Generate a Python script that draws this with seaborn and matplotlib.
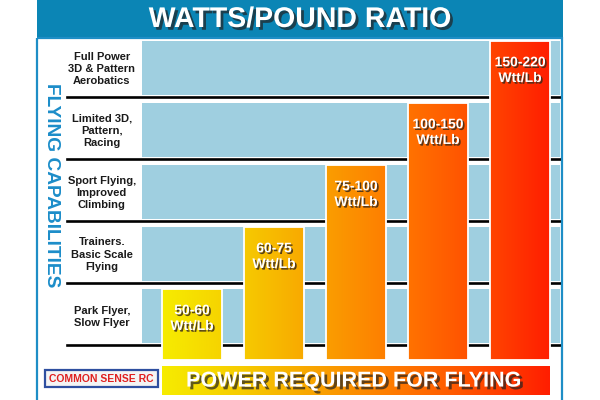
import numpy as np
import pandas as pd
import matplotlib
matplotlib.use("Agg")
import matplotlib.pyplot as plt
import matplotlib.patheffects as pe
import matplotlib.transforms as mtransforms
from matplotlib.colors import LinearSegmentedColormap
from matplotlib.patches import Rectangle
import seaborn as sns

# -----------------------------
# Data
# -----------------------------
ratios = ["50-60", "60-75", "75-100", "100-150", "150-220"]
levels = [1, 2, 3, 4, 5]
unit = "Wtt/Lb"
capabilities = [
    "Park Flyer,\nSlow Flyer",
    "Trainers.\nBasic Scale\nFlying",
    "Sport Flying,\nImproved\nClimbing",
    "Limited 3D,\nPattern,\nRacing",
    "Full Power\n3D & Pattern\nAerobatics",
]
title = "WATTS/POUND RATIO"
y_title = "FLYING CAPABILITIES"
x_title = "POWER REQUIRED FOR FLYING"
logo = "COMMON SENSE RC"

# -----------------------------
# Style
# -----------------------------
TITLE_BLUE = "#0B85B5"
BORDER_BLUE = "#1E8EC6"
BAND_BLUE = "#9FCFE0"
grad_colors = ["#F6EC00", "#F6CC00", "#F9A200", "#FF7A00", "#FF5000", "#FF1E00"]
cmap = LinearSegmentedColormap.from_list("power", grad_colors)

BAR_BASE = -0.145   # bars start a little under the lowest rule
shadow = [pe.withSimplePatchShadow(offset=(1.2, -1.2), shadow_rgbFace="#3a2a1a", alpha=0.85)]
big_shadow = [pe.withSimplePatchShadow(offset=(2, -2), shadow_rgbFace="#222222", alpha=0.7)]

fig = plt.figure(figsize=(6, 4), dpi=100)
plt.rcParams["font.family"] = ["Liberation Sans", "DejaVu Sans"]

# pixel transform for frame decorations (origin top-left)
px = mtransforms.Affine2D().scale(1 / 600, -1 / 400).translate(0, 1) + fig.transFigure

ax = fig.add_axes([0, 0, 1, 1])
df = pd.DataFrame({"ratio": ratios, "level": levels})
sns.barplot(data=df, x="ratio", y="level", order=ratios, width=0.73,
            color="white", ax=ax, zorder=3)
bars = list(ax.patches)

xlim = (-192 / 82, (600 - 192) / 82)
ylim = (-49 / 62, 351 / 62)

# -----------------------------
# Rows: light blue bands + black rules
# -----------------------------
for k in levels:
    ax.axhspan(k - 1 + 0.13, k, xmin=142 / 600, xmax=560 / 600,
               color=BAND_BLUE, lw=0, zorder=1)
    ax.axhline(k - 1 + 0.1, xmin=67 / 600, xmax=561 / 600,
               color="black", lw=1.9, zorder=1.5)
    ax.text(-1.10, k - 0.45, capabilities[k - 1], ha="center", va="center",
            fontsize=8, fontweight="bold", color="#1a1a1a", linespacing=1.3)

# -----------------------------
# Gradient bars
# -----------------------------
grad = np.linspace(0, 1, 256).reshape(1, -1)
x_lo = bars[0].get_x()
x_hi = bars[-1].get_x() + bars[-1].get_width()
for bar, r, lv in zip(bars, ratios, levels):
    bar.set_y(BAR_BASE)
    bar.set_height(bar.get_height() - BAR_BASE)
    im = ax.imshow(grad, cmap=cmap, extent=[x_lo, x_hi, BAR_BASE, 6],
                   aspect="auto", zorder=2.5, interpolation="bilinear")
    im.set_clip_path(bar)
    bar.set_facecolor("none")
    bar.set_edgecolor("white")
    bar.set_linewidth(1.3)
    ax.text(bar.get_x() + bar.get_width() / 2, lv - 0.47, f"{r}\n{unit}",
            ha="center", va="center", color="white", fontsize=10,
            fontweight="bold", linespacing=1.15, path_effects=shadow, zorder=4)

# power band along the bottom
band = Rectangle((x_lo, -0.71), x_hi - x_lo, 0.47, facecolor="none", lw=0, zorder=2)
ax.add_patch(band)
im = ax.imshow(grad, cmap=cmap, extent=[x_lo, x_hi, -0.71, -0.24],
               aspect="auto", zorder=2, interpolation="bilinear")
im.set_clip_path(band)
ax.text((x_lo + x_hi) / 2 - 0.04, -0.485, x_title, ha="center", va="center",
        color="white", fontsize=15.5, fontweight="bold", path_effects=big_shadow, zorder=4)

ax.set_xlim(*xlim)
ax.set_ylim(*ylim)
ax.set_axis_off()

# -----------------------------
# Frame, title, side label, logo
# -----------------------------
fig.patches.append(Rectangle((37, 0), 526, 38, transform=px, facecolor=TITLE_BLUE, lw=0))
fig.patches.append(Rectangle((37, 38), 525, 400, transform=px, facecolor="none",
                             edgecolor=BORDER_BLUE, lw=1.6))
fig.text(0.5, 1 - 20 / 400, title, ha="center", va="center", color="white",
         fontsize=20.5, fontweight="bold", path_effects=big_shadow)
fig.text(51 / 600, 1 - 185 / 400, y_title, ha="center", va="center", rotation=270,
         color="#1C8DC9", fontsize=13.8, fontweight="bold")
fig.patches.append(Rectangle((45, 370), 113, 17, transform=px, facecolor="#F4F4F4",
                             edgecolor="#2E4FA0", lw=1.6))
fig.text(101.5 / 600, 1 - 378.5 / 400, logo, ha="center", va="center",
         color="#E02020", fontsize=7.5, fontweight="bold")

fig.savefig("out.png", dpi=100, facecolor="white")
